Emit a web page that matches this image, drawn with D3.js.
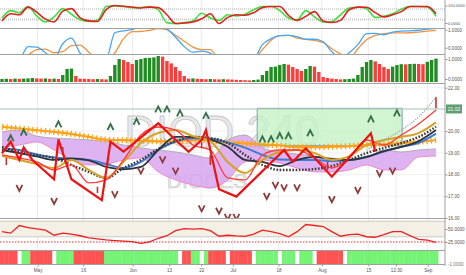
<!DOCTYPE html>
<html>
<head>
<meta charset="utf-8">
<script src="https://cdn.jsdelivr.net/npm/d3@7"></script>
<style>
  body { margin: 0; background: #fff; }
  svg { display: block; font-family: "Liberation Sans", Arial, sans-serif; }
  .axis text { font-size: 4.6px; fill: #555; }
  .axis line { stroke: #999; }
  .axis.small text { font-size: 4px; }
</style>
</head>
<body>
<div id="chart"></div>
<script>
// ---- data (bar index 0..100) ----
const tickIdx = [8.2, 18.7, 30.1, 38.5, 45.9, 53.2, 63.7, 73.7, 84.4, 90.8, 98.1];
const tickLabels = ["May", "16", "Jun", "13", "22", "Jul", "18", "Aug", "15", "12:30", "Sep"];

// stochastic (every 2 bars)
const stochRed = [12,53,47,91,62,22,6,68,82,29,12,9,76,100,96,91,86,91,88,47,-3,0,6,24,53,-3,32,47,44,59,88,94,94,44,15,38,65,12,3,15,76,91,90,59,35,47,65,94,94,94,53];
const stochGreen = [29,71,59,94,41,6,35,82,50,18,9,15,94,98,94,88,89,94,76,2,-3,2,12,56,29,15,47,41,50,76,94,94,71,29,18,71,35,6,9,47,85,90,82,32,39,53,79,94,94,91,38];

// two-line oscillator (every 2 bars)
const oscBlue = [-0.6,-0.6,-0.6,0.06,0.03,-0.28,-0.6,0.22,0.53,-0.3,-0.6,-0.6,-0.6,0.83,0.94,1.0,1.17,1.2,1.15,1.03,0.58,0.06,-0.25,-0.19,-0.3,-0.6,-0.6,-0.6,-0.6,-0.6,0.17,0.5,0.67,0.69,0.61,0.47,0.47,0.33,-0.22,-0.6,-0.28,0.17,0.78,0.8,0.72,0.86,0.92,0.94,0.97,1.03,1.08];
const oscOrange = [-0.6,-0.6,-0.6,-0.4,-0.11,-0.08,-0.28,-0.22,0.11,0.14,-0.25,-0.6,-0.6,-0.28,0.5,0.89,0.9,0.97,1.06,1.0,0.69,0.36,0.03,-0.11,-0.11,-0.6,-0.6,-0.6,-0.6,-0.6,-0.11,0.42,0.67,0.68,0.53,0.46,0.41,0.28,-0.06,-0.36,-0.6,-0.06,0.44,0.69,0.78,0.82,0.82,0.83,0.86,0.92,0.96];

// histogram (every bar)
const histVals = [0.0,0.01,0.0,0.02,0.01,0.02,0.03,0.05,0.03,0.02,0.03,0.01,0.02,0.0,
  0.2,0.5,0.52,0.15,
  0.02,0.01,0.0,-0.01,0.0,-0.01,-0.02,
  0.15,0.7,1.0,0.95,0.85,0.75,0.95,1.0,1.05,1.06,1.08,1.15,1.12,0.9,0.78,0.6,0.4,0.15,
  0.02,0.03,0.01,0.0,-0.01,0.0,-0.01,-0.02,-0.01,-0.02,-0.03,-0.04,-0.05,-0.06,-0.07,-0.05,-0.03,
  0.2,0.4,0.6,0.62,0.7,0.75,0.72,0.6,0.5,0.4,0.5,0.65,0.62,0.35,0.1,
  0.05,0.02,0.0,-0.02,-0.01,0.0,0.02,
  0.2,0.6,0.85,0.95,0.88,0.75,0.6,0.5,0.62,0.7,0.74,0.73,0.75,0.76,0.75,0.74,0.86,0.95,1.02];

// price panel lines (every 4 bars)
const orangeP = [20.20,20.12,20.04,19.96,19.87,19.73,19.61,19.58,19.56,19.53,19.53,19.58,19.57,19.48,19.43,19.39,19.34,19.26,19.26,19.28,19.31,19.36,19.39,19.44,19.50,19.59];
const blueP = [19.20,19.13,18.92,18.78,18.72,18.67,18.48,18.30,18.58,19.13,19.52,19.67,19.65,19.47,19.24,18.90,18.69,18.67,18.67,18.62,18.67,18.82,19.06,19.28,19.45,19.88];
const blackP = [19.13,18.99,18.83,18.67,18.74,18.65,18.35,18.24,18.35,19.13,19.73,19.73,19.61,19.28,18.67,18.58,18.39,18.67,18.81,18.71,18.67,18.81,19.08,19.27,19.54,20.05];
const dotP = [19.27,19.04,18.90,18.76,18.44,18.12,17.84,18.30,18.67,19.18,19.54,19.73,19.68,19.45,18.90,18.44,18.21,18.21,18.25,18.39,18.67,18.99,19.22,19.45,19.73,20.2];
const goldP = [18.85,18.67,18.48,18.30,18.67,18.21,17.84,18.58,19.45,19.91,20.05,19.77,19.54,18.58,18.07,18.67,19.04,19.13,18.99,18.67,18.85,19.36,19.59,19.73,19.91,20.4];
const redThinP = [18.90,18.76,18.58,18.21,18.44,17.61,17.75,18.67,19.82,20.19,20.05,19.36,19.13,17.84,17.75,18.90,19.13,19.13,18.76,18.30,18.76,19.59,19.36,19.82,20.33,20.97];
const cloudA = [19.96,20.05,19.77,19.68,19.64,19.59,19.54,19.36,19.22,19.13,19.04,18.90,18.76,19.59,19.82,19.22,19.04,18.94,18.85,18.76,18.67,18.76,19.13,19.04,19.13,19.18];
const cloudB = [19.27,19.36,19.50,19.13,18.67,18.44,18.48,18.67,18.76,18.12,17.75,17.52,17.38,17.75,18.58,18.67,18.53,18.30,18.12,18.12,18.21,18.44,18.21,18.21,18.81,18.85];

// zigzag pivots
const zigIdx = [0,2,4,5,7,12,13,16,23,25,28,36,40,43,46,47,50,54,65,67,70,76,85,86];
const zigP = [18.98,19.51,18.67,19.25,18.67,17.78,19.62,17.78,16.82,19.51,19.05,20.36,19.59,19.05,19.59,20.05,17.32,16.98,19.13,18.59,19.21,17.9,19.9,19.05];

// light tail of closes
const tailIdx = [84, 88, 92, 96, 100];
const tailP = [19.13, 19.59, 20.05, 20.65, 21.57];

// signal markers
const upIdx = [2,5,13,25,31,36,38,41,47,60,62,64,66,71,85,91];
const upP = [19.67,19.93,20.31,20.19,20.43,21.0,21.0,20.82,20.70,19.62,19.62,19.77,19.77,19.90,20.54,20.82];
const downIdx = [4,12,26,32,37,40,46,50,52,54,61,63,65,68,76,82,87,90];
const downP = [17.38,16.78,17.10,18.18,18.70,18.18,16.44,16.33,16.05,16.05,17.01,17.52,17.41,17.41,16.86,17.29,18.06,18.18];

// short red bars
const spikeIdx = [1, 14, 22, 46, 48, 75, 100];
const spikeLo = [18.44, 19.04, 17.15, 19.22, 18.44, 18.21, 21.05];
const spikeHi = [18.76, 19.27, 17.43, 19.50, 18.90, 18.58, 21.56];

// range box and last price
const boxIdx = [58.8, 92.2];
const boxP = [19.33, 21.05];
const lastPrice = 21.02;

// rsi-like line (every 2 bars)
const rsiVals = [44.9,42,56.7,52.7,50.2,47.8,38,42,40,37,33.1,31.2,29.2,27.8,26.7,25.9,22.4,25.3,32.2,37.1,46.9,50.8,49.8,50.8,46.9,36.1,38,36.7,35.9,40,47.8,44.9,41,35.1,44.9,58.6,56.7,54.7,44.9,36.1,39,40,35.1,34.1,39,44.9,44.9,37.1,30.2,28.6,24.3];

// state strip (1 green, -1 red, 0 none)
const stateVals = [-1,-1,-1,-1,0,1,1,-1,-1,-1,-1,-1,0,1,1,1,1,-1,-1,-1,-1,-1,-1,-1,
  1,1,1,1,1,1,1,1,1,1,1,1,1,1,1,1,1,0,-1,-1,1,1,0,1,-1,-1,-1,-1,0,-1,-1,-1,-1,-1,0,
  1,1,1,1,1,0,1,1,1,0,1,1,1,0,-1,-1,-1,-1,-1,-1,0,
  1,1,1,1,1,1,1,1,1,1,1,1,1,1,1,1,1,1,1,1,1];

const idx2 = d3.range(0, 101, 2);
const idx4 = d3.range(0, 101, 4);

// ---- layout ----
const width = 466, height = 275;
const plotRight = 445;

const svg = d3.select("#chart").append("svg")
  .attr("width", width)
  .attr("height", height);

const panels = {
  stoch: [0, 28.5], osc: [28.5, 54.5], hist: [54.5, 83.5],
  price: [83.5, 218.5], rsi: [218.5, 250.5], state: [250.5, 264.5]
};

const defs = svg.append("defs");
Object.entries(panels).forEach(([k, [y0, y1]]) => {
  defs.append("clipPath").attr("id", "clip-" + k)
    .append("rect").attr("x", 0).attr("y", y0).attr("width", plotRight).attr("height", y1 - y0);
});

const x = d3.scaleLinear().domain([0, 100]).range([2, 436]);
const barW = x(1) - x(0);

const yStoch = d3.scaleLinear().domain([0, 100]).range([23, 5.5]);
const yOsc = d3.scaleLinear().domain([0, 1]).range([47.7, 29.7]);
const yHist = d3.scaleLinear().domain([0, 1]).range([79, 59]);
const yPrice = d3.scaleLinear().domain([16, 22]).range([217.9, 87.7]);
const yRsi = d3.scaleLinear().domain([0, 100]).range([255, 203]);

// grid
const grid = svg.append("g");
grid.selectAll(".vg").data(tickIdx).join("line")
  .attr("x1", d => x(d)).attr("x2", d => x(d))
  .attr("y1", 0).attr("y2", 264.5)
  .attr("stroke", "#e6e6e6").attr("stroke-width", 0.8);
grid.selectAll(".hg").data([17, 18, 19, 20, 21, 22]).join("line")
  .attr("x1", 0).attr("x2", plotRight)
  .attr("y1", d => yPrice(d)).attr("y2", d => yPrice(d))
  .attr("stroke", "#eeeeee").attr("stroke-width", 0.8);

const lineOf = (idx, yScale, curve) => d3.line()
  .x((d, i) => x(idx[i]))
  .y(d => yScale(d))
  .curve(curve || d3.curveMonotoneX);

// ---- stochastic panel ----
const gStoch = svg.append("g").attr("clip-path", "url(#clip-stoch)");
gStoch.append("line").attr("x1", 0).attr("x2", plotRight)
  .attr("y1", yStoch(80)).attr("y2", yStoch(80))
  .attr("stroke", "#999").attr("stroke-dasharray", "1,1").attr("stroke-width", 0.8);
gStoch.append("line").attr("x1", 0).attr("x2", plotRight)
  .attr("y1", yStoch(20)).attr("y2", yStoch(20))
  .attr("stroke", "#c8c8c8").attr("stroke-dasharray", "1,1").attr("stroke-width", 2);
gStoch.append("path").attr("d", lineOf(idx2, yStoch)(stochGreen))
  .attr("fill", "none").attr("stroke", "#3ee03e").attr("stroke-width", 1.6);
gStoch.append("path").attr("d", lineOf(idx2, yStoch)(stochRed))
  .attr("fill", "none").attr("stroke", "#e32020").attr("stroke-width", 1.6);

// ---- oscillator panel ----
const gOsc = svg.append("g").attr("clip-path", "url(#clip-osc)");
gOsc.append("path").attr("d", lineOf(idx2, yOsc)(oscOrange))
  .attr("fill", "none").attr("stroke", "#f5923e").attr("stroke-width", 1.3);
gOsc.append("path").attr("d", lineOf(idx2, yOsc)(oscBlue))
  .attr("fill", "none").attr("stroke", "#45a6f2").attr("stroke-width", 1.3);

// ---- histogram panel ----
const gHist = svg.append("g").attr("clip-path", "url(#clip-hist)");
gHist.selectAll("rect").data(histVals).join("rect")
  .attr("x", (d, i) => x(i) - barW / 2 + 0.5)
  .attr("width", barW - 1)
  .attr("y", d => yHist(d))
  .attr("height", d => yHist(-0.15) - yHist(d))
  .attr("fill", (d, i) => (i === 0 || d >= histVals[i - 1]) ? "#218c21" : "#ff3c3c");

// ---- price panel ----
const gPrice = svg.append("g").attr("clip-path", "url(#clip-price)");

// watermark
gPrice.append("text").attr("x", 222).attr("y", 147)
  .attr("text-anchor", "middle").attr("font-size", 44)
  .attr("fill", "#e8e8e8").attr("stroke", "#c9c9c9").attr("stroke-width", 0.8)
  .text("DIOD 240");
gPrice.append("text").attr("x", 207).attr("y", 188)
  .attr("text-anchor", "middle").attr("font-size", 21)
  .attr("fill", "#e8e8e8").attr("stroke", "#c9c9c9").attr("stroke-width", 0.6)
  .text("DIODES");

// range box
gPrice.append("rect")
  .attr("x", x(boxIdx[0])).attr("width", x(boxIdx[1]) - x(boxIdx[0]))
  .attr("y", yPrice(boxP[1])).attr("height", yPrice(boxP[0]) - yPrice(boxP[1]))
  .attr("fill", "#c6f3c6").attr("fill-opacity", 0.8)
  .attr("stroke", "#7f9fb6").attr("stroke-width", 1);

// cloud
gPrice.append("path")
  .attr("d", d3.area().x((d, i) => x(idx4[i])).y0((d, i) => yPrice(cloudB[i])).y1(d => yPrice(d)).curve(d3.curveMonotoneX)(cloudA))
  .attr("fill", "#d8a6ef").attr("fill-opacity", 0.85);
gPrice.append("path").attr("d", lineOf(idx4, yPrice)(cloudA))
  .attr("fill", "none").attr("stroke", "#a7a7a7").attr("stroke-width", 0.9);
gPrice.append("path").attr("d", lineOf(idx4, yPrice)(cloudB))
  .attr("fill", "none").attr("stroke", "#ef80c8").attr("stroke-width", 0.9);

// last price level
gPrice.append("line").attr("x1", 0).attr("x2", plotRight)
  .attr("y1", yPrice(lastPrice)).attr("y2", yPrice(lastPrice))
  .attr("stroke", "#a9cbbd").attr("stroke-width", 1);

// orange "+" line
const orangeD = lineOf(idx4, yPrice)(orangeP);
gPrice.append("path").attr("d", orangeD)
  .attr("fill", "none").attr("stroke", "#ffa31a").attr("stroke-width", 2.2);
gPrice.append("path").attr("d", orangeD)
  .attr("fill", "none").attr("stroke", "#ffa31a").attr("stroke-width", 6)
  .attr("stroke-dasharray", "1.3,3");

gPrice.append("path").attr("d", lineOf(idx4, yPrice)(blueP))
  .attr("fill", "none").attr("stroke", "#3c7bd6").attr("stroke-width", 2);
gPrice.append("path").attr("d", lineOf(idx4, yPrice)(dotP))
  .attr("fill", "none").attr("stroke", "#3a3a3a").attr("stroke-width", 2.4)
  .attr("stroke-dasharray", "1.6,1.6");
gPrice.append("path").attr("d", lineOf(idx4, yPrice)(blackP))
  .attr("fill", "none").attr("stroke", "#2c343c").attr("stroke-width", 1.8);
gPrice.append("path").attr("d", lineOf(idx4, yPrice)(goldP))
  .attr("fill", "none").attr("stroke", "#d8a226").attr("stroke-width", 2);
gPrice.append("path").attr("d", lineOf(idx4, yPrice)(redThinP))
  .attr("fill", "none").attr("stroke", "#ff3b3b").attr("stroke-width", 1.3);
gPrice.append("path").attr("d", lineOf(tailIdx, yPrice)(tailP))
  .attr("fill", "none").attr("stroke", "#9aa89a").attr("stroke-width", 1.6)
  .attr("stroke-dasharray", "1,1.5");

// zigzag
gPrice.append("path").attr("d", lineOf(zigIdx, yPrice, d3.curveLinear)(zigP))
  .attr("fill", "none").attr("stroke", "#ee1111").attr("stroke-width", 2.2)
  .attr("stroke-linejoin", "miter");

// red bars
gPrice.selectAll(".spike").data(spikeIdx).join("line")
  .attr("x1", d => x(d)).attr("x2", d => x(d))
  .attr("y1", (d, i) => yPrice(spikeLo[i])).attr("y2", (d, i) => yPrice(spikeHi[i]))
  .attr("stroke", "#c83030").attr("stroke-width", 1.6);

// signal markers
gPrice.selectAll(".up").data(upIdx).join("path")
  .attr("transform", (d, i) => `translate(${x(d)},${yPrice(upP[i])})`)
  .attr("d", "M-3,3L0,-3L3,3")
  .attr("fill", "none").attr("stroke", "#356f48").attr("stroke-width", 1.8);
gPrice.selectAll(".down").data(downIdx).join("path")
  .attr("transform", (d, i) => `translate(${x(d)},${yPrice(downP[i])})`)
  .attr("d", "M-3,-3L0,3L3,-3")
  .attr("fill", "none").attr("stroke", "#8e3b3b").attr("stroke-width", 1.8);

// ---- rsi panel ----
const gRsi = svg.append("g").attr("clip-path", "url(#clip-rsi)");
gRsi.append("rect").attr("x", 0).attr("width", plotRight)
  .attr("y", yRsi(65)).attr("height", yRsi(35) - yRsi(65))
  .attr("fill", "#f4f0e6");
[65, 35].forEach(v => gRsi.append("line").attr("x1", 0).attr("x2", plotRight)
  .attr("y1", yRsi(v)).attr("y2", yRsi(v)).attr("stroke", "#bdbdbd").attr("stroke-width", 0.8));
gRsi.append("line").attr("x1", 0).attr("x2", plotRight)
  .attr("y1", yRsi(25)).attr("y2", yRsi(25))
  .attr("stroke", "#e83030").attr("stroke-width", 1.2).attr("stroke-dasharray", "1.5,1.5");
gRsi.append("path").attr("d", lineOf(idx2, yRsi, d3.curveLinear)(rsiVals))
  .attr("fill", "none").attr("stroke", "#ee2020").attr("stroke-width", 1.3);

// ---- state strip ----
const gState = svg.append("g").attr("clip-path", "url(#clip-state)");
gState.selectAll("rect").data(stateVals).join("rect")
  .attr("x", (d, i) => x(i) - barW / 2)
  .attr("width", barW + 0.3)
  .attr("y", 250.5).attr("height", 13.5)
  .attr("fill", d => d > 0 ? "#74f374" : d < 0 ? "#ff5252" : "none");

// ---- panel borders ----
[28.5, 54.5, 83.5, 218.5, 250.5, 264.5].forEach(y => {
  svg.append("line").attr("x1", 0).attr("x2", plotRight).attr("y1", y).attr("y2", y)
    .attr("stroke", "#a0a0a0").attr("stroke-width", 1);
});
svg.append("line").attr("x1", plotRight).attr("x2", plotRight).attr("y1", 0).attr("y2", 266)
  .attr("stroke", "#a0a0a0");

// ---- right axes ----
const rightAxis = (scale, vals, fmt, cls) => {
  svg.append("g").attr("class", "axis " + (cls || "")).attr("transform", `translate(${plotRight},0)`)
    .call(d3.axisRight(scale).tickValues(vals).tickFormat(d3.format(fmt)).tickSize(2.5).tickPadding(0.5))
    .call(g => g.select(".domain").remove());
};
rightAxis(yStoch, [0, 100], ".4f", "small");
rightAxis(yOsc, [0, 1], ".4f");
rightAxis(yHist, [0, 1], ".4f");
rightAxis(yPrice, [16, 17, 18, 19, 20, 22], ".2f");
rightAxis(yRsi, [25, 50], ".4f");
svg.append("text").attr("x", 448).attr("y", 266).attr("font-size", 4.6).attr("fill", "#777").text("-1.0000");

// last price tag
svg.append("rect").attr("x", 446).attr("y", yPrice(lastPrice) - 4.5)
  .attr("width", 16).attr("height", 9).attr("fill", "#5e9e72");
svg.append("text").attr("x", 454).attr("y", yPrice(lastPrice) + 2)
  .attr("text-anchor", "middle").attr("font-size", 5).attr("fill", "#fff")
  .text(lastPrice.toFixed(2));

// ---- time axis ----
svg.append("g").attr("class", "axis").attr("transform", "translate(0,264.5)")
  .call(d3.axisBottom(x).tickValues(tickIdx).tickFormat((d, i) => tickLabels[i]).tickSize(2).tickPadding(2))
  .call(g => g.select(".domain").remove());
</script>
</body>
</html>
